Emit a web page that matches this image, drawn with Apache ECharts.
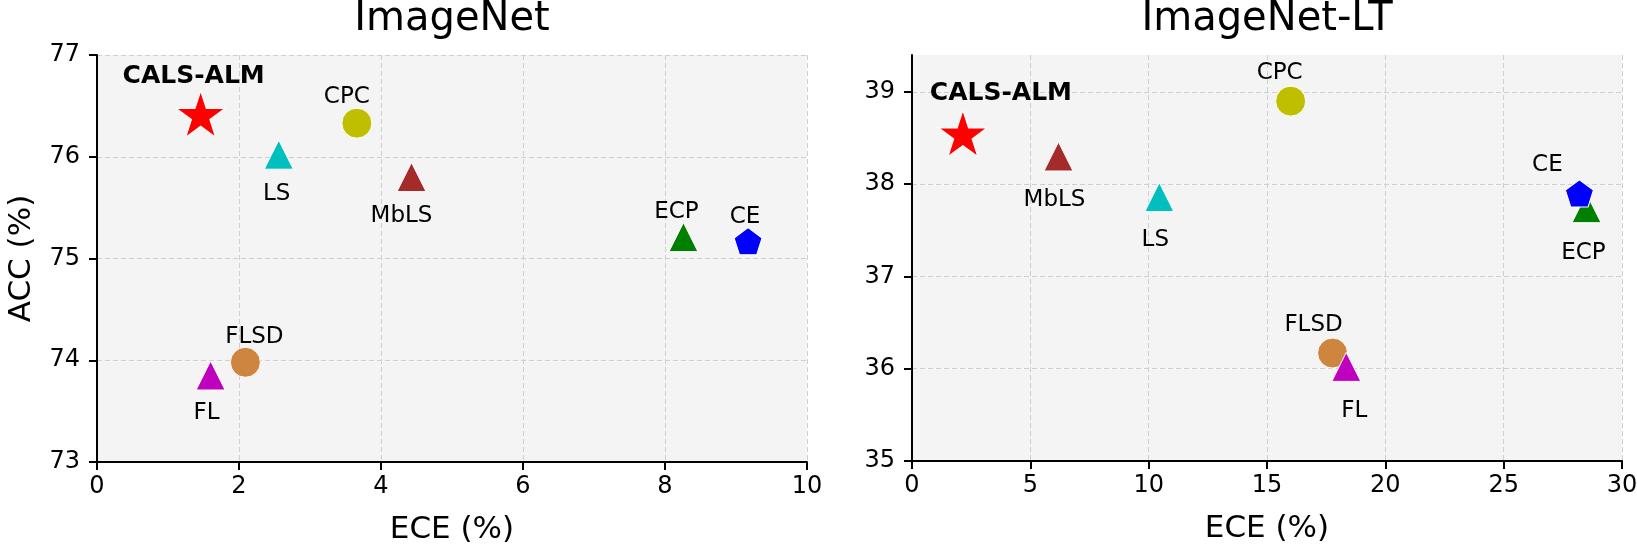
<!DOCTYPE html>
<html><head><meta charset="utf-8">
<script src="https://cdn.jsdelivr.net/npm/echarts@6/dist/echarts.min.js"></script>
<style>html,body{margin:0;padding:0;background:#fff}#c{width:1637px;height:547px}</style>
</head><body><div id="c"></div>
<script>
// ---- data ----
const methods = ['CALS-ALM', 'CPC', 'LS', 'MbLS', 'ECP', 'CE', 'FLSD', 'FL'];
const imagenetECE = [1.46, 3.66, 2.56, 4.43, 8.26, 9.17, 2.09, 1.60];
const imagenetACC = [76.42, 76.33, 76.02, 75.80, 75.21, 75.17, 73.98, 73.85];
const imagenetLtECE = [2.15, 16.0, 10.45, 6.19, 28.5, 28.2, 17.77, 18.35];
const imagenetLtACC = [38.55, 38.90, 37.86, 38.30, 37.74, 37.90, 36.17, 36.02];
const panelTitles = ['ImageNet', 'ImageNet-LT'];
const leftXTicks = [0, 2, 4, 6, 8, 10];
const leftYTicks = [73, 74, 75, 76, 77];
const rightXTicks = [0, 5, 10, 15, 20, 25, 30];
const rightYTicks = [35, 36, 37, 38, 39];

// ---- styles ----
const STAR = 'path://M50 0 L61.23 34.55 L97.55 34.55 L68.16 55.9 L79.39 90.45 L50 69.1 L20.61 90.45 L31.84 55.9 L2.45 34.55 L38.77 34.55 Z';
const PENT = 'path://M50 0 L97.55 34.55 L79.39 90.45 L20.61 90.45 L2.45 34.55 Z';
const styleMap = {
  'CALS-ALM': {color: '#ff0000', symbol: STAR, size: [48, 46]},
  'CPC': {color: '#bfbf00', symbol: 'circle', size: 30},
  'LS': {color: '#00bfbf', symbol: 'triangle', size: 29},
  'MbLS': {color: '#a52a2a', symbol: 'triangle', size: 29},
  'ECP': {color: '#008000', symbol: 'triangle', size: 29},
  'CE': {color: '#0000ff', symbol: PENT, size: [28, 27]},
  'FLSD': {color: '#cd853f', symbol: 'circle', size: 30},
  'FL': {color: '#bf00bf', symbol: 'triangle', size: 29}
};
const leftOffsets = {
  'CALS-ALM': [-7, -38], 'CPC': [-10, -26], 'LS': [-2, 39], 'MbLS': [-10, 39],
  'ECP': [-7, -25], 'CE': [-3, -24], 'FLSD': [9, -25], 'FL': [-4, 38]
};
const rightOffsets = {
  'CALS-ALM': [38, -40], 'CPC': [-11, -28], 'LS': [-4, 43], 'MbLS': [-4, 44],
  'ECP': [-3, 45], 'CE': [-32, -28], 'FLSD': [-19, -28], 'FL': [8, 44]
};
const FONT = 'DejaVu Sans';

function makeSeries(xs, ys, idx, offsets) {
  return methods.map((m, i) => {
    const st = styleMap[m];
    const bold = m === 'CALS-ALM';
    return {
      name: m,
      type: 'scatter',
      xAxisIndex: idx, yAxisIndex: idx,
      symbol: st.symbol,
      symbolSize: st.size,
      itemStyle: {color: st.color, borderColor: '#ffffff', borderWidth: 1, opacity: 1},
      label: {
        show: true, position: 'inside', offset: offsets[m],
        formatter: '{a}', color: '#000', fontFamily: FONT,
        fontSize: bold ? 25 : 23, fontWeight: bold ? 'bold' : 'normal'
      },
      emphasis: {disabled: true},
      data: [[xs[i], ys[i]]],
      z: 3
    };
  });
}

function xAxis(idx, ticks, name) {
  return {
    type: 'value', gridIndex: idx,
    min: ticks[0], max: ticks[ticks.length - 1], interval: ticks[1] - ticks[0],
    name: name, nameLocation: 'middle', nameGap: 52,
    nameTextStyle: {fontFamily: FONT, fontSize: 31, color: '#000'},
    axisLine: {show: true, onZero: false, lineStyle: {color: '#000', width: 2}},
    axisTick: {show: true, inside: false, length: 8, lineStyle: {color: '#000', width: 2}},
    axisLabel: {fontFamily: FONT, fontSize: 24, color: '#000', margin: 13},
    splitLine: {show: true, lineStyle: {color: '#cfcfcf', width: 1, type: [5, 3]}}
  };
}
function yAxis(idx, ticks, max, name) {
  return {
    type: 'value', gridIndex: idx,
    min: ticks[0], max: max, interval: ticks[1] - ticks[0],
    name: name, nameLocation: 'middle', nameGap: 60,
    nameTextStyle: {fontFamily: FONT, fontSize: 31, color: '#000'},
    axisLine: {show: true, onZero: false, lineStyle: {color: '#000', width: 2}},
    axisTick: {show: true, inside: false, length: 8, lineStyle: {color: '#000', width: 2}, customValues: ticks},
    axisLabel: {fontFamily: FONT, fontSize: 24, color: '#000', margin: 17, customValues: ticks},
    splitLine: {show: true, lineStyle: {color: '#cfcfcf', width: 1, type: [5, 3]}}
  };
}

const chart = echarts.init(document.getElementById('c'), null, {renderer: 'canvas'});
chart.setOption({
  animation: false,
  backgroundColor: '#ffffff',
  grid: [
    {left: 97, right: 830, top: 55, bottom: 85, show: true, backgroundColor: '#f4f4f4', borderWidth: 0, containLabel: false, outerBoundsMode: 'none'},
    {left: 912, right: 15, top: 55, bottom: 86, show: true, backgroundColor: '#f4f4f4', borderWidth: 0, containLabel: false, outerBoundsMode: 'none'}
  ],
  xAxis: [xAxis(0, leftXTicks, 'ECE (%)'), xAxis(1, rightXTicks, 'ECE (%)')],
  yAxis: [yAxis(0, leftYTicks, 77, 'ACC (%)'), yAxis(1, rightYTicks, 39.4, '')],
  graphic: [
    {type: 'text', x: 452, y: 20, style: {text: panelTitles[0], align: 'center', verticalAlign: 'middle', font: '40px "DejaVu Sans"', fill: '#000'}},
    {type: 'text', x: 1267, y: 20, style: {text: panelTitles[1], align: 'center', verticalAlign: 'middle', font: '40px "DejaVu Sans"', fill: '#000'}}
  ],
  series: makeSeries(imagenetECE, imagenetACC, 0, leftOffsets)
    .concat(makeSeries(imagenetLtECE, imagenetLtACC, 1, rightOffsets))
});
</script>
</body></html>
